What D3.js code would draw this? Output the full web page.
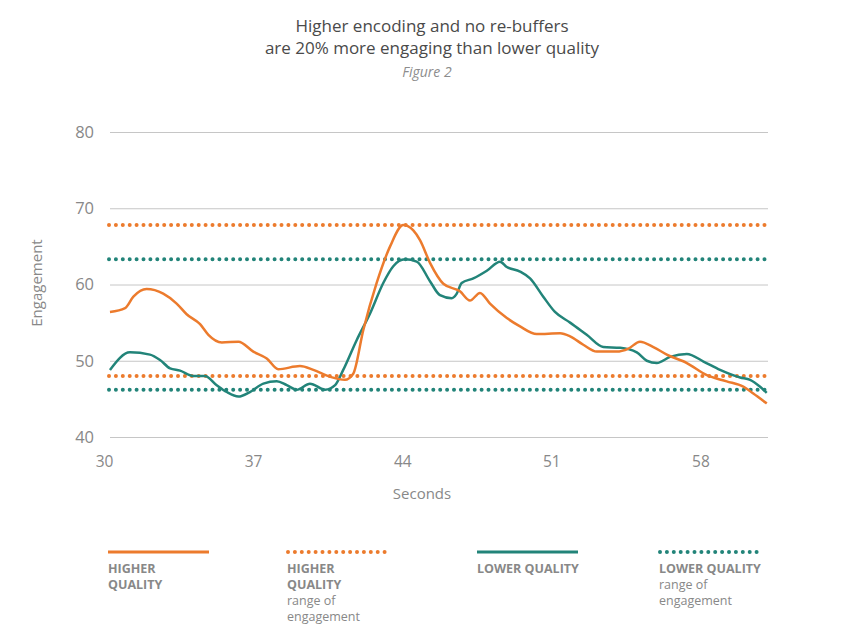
<!DOCTYPE html>
<html>
<head>
<meta charset="utf-8">
<script src="https://cdn.jsdelivr.net/npm/d3@7"></script>
<style>
  body { margin: 0; background: #fff; }
  svg text { font-family: "Open Sans", "Noto Sans", sans-serif; }
</style>
</head>
<body>
<svg id="chart" width="850" height="626"></svg>
<script>
// seconds (x)
const higherSec = [30.28, 30.99, 31.38, 32.00, 32.78, 33.41, 33.88, 34.51, 34.90, 35.53, 36.31, 37.01, 37.64, 38.18, 39.20, 39.83, 40.61, 41.31, 41.70, 42.17, 42.80, 43.43, 44.05, 44.52, 44.84, 45.31, 45.93, 46.71, 47.18, 47.65, 48.12, 48.91, 49.53, 50.31, 51.41, 51.88, 52.50, 53.13, 54.07, 54.62, 55.16, 55.79, 56.42, 57.36, 58.30, 59.23, 60.01, 60.48, 61.11];
const higherVal = [56.4, 56.9, 58.4, 59.4, 58.8, 57.5, 56.1, 54.8, 53.4, 52.4, 52.5, 51.2, 50.3, 48.9, 49.3, 48.8, 47.9, 47.5, 48.3, 54.0, 60.2, 65.0, 67.8, 67.1, 65.8, 62.8, 60.1, 59.1, 57.9, 58.9, 57.5, 55.6, 54.5, 53.5, 53.6, 53.2, 52.1, 51.2, 51.2, 51.6, 52.5, 51.8, 50.8, 49.7, 48.1, 47.3, 46.6, 45.7, 44.4];

const lowerSec = [30.28, 31.22, 32.16, 32.63, 33.10, 33.57, 34.19, 34.74, 35.29, 35.76, 36.31, 36.85, 37.48, 38.11, 38.58, 39.05, 39.67, 40.38, 40.85, 41.23, 41.86, 42.49, 43.11, 43.58, 44.13, 44.68, 45.31, 45.77, 46.32, 46.56, 46.79, 47.34, 47.97, 48.59, 48.91, 49.53, 50.00, 50.62, 51.17, 51.88, 52.66, 53.44, 54.23, 55.01, 55.48, 55.95, 56.57, 57.36, 58.14, 58.92, 59.86, 60.33, 60.80, 61.11];
const lowerVal = [48.8, 51.1, 50.8, 50.1, 49.0, 48.7, 48.0, 48.0, 46.8, 45.9, 45.3, 45.9, 47.0, 47.3, 46.8, 46.2, 47.0, 46.2, 46.8, 48.8, 52.7, 56.2, 60.2, 62.4, 63.3, 63.0, 60.4, 58.6, 58.2, 58.8, 60.2, 60.8, 61.8, 63.0, 62.3, 61.7, 60.8, 58.4, 56.4, 55.0, 53.4, 51.8, 51.7, 51.1, 50.0, 49.7, 50.5, 50.9, 49.9, 48.8, 47.8, 47.5, 46.6, 45.8];

// range of engagement [min, max]
const higherRange = [48.0, 67.8];
const lowerRange = [46.2, 63.3];

const xTicks = [30, 37, 44, 51, 58];
const yTicks = [40, 50, 60, 70, 80];

const orange = '#ec7b2d';
const teal = '#228479';
const grey = '#888888';

const svg = d3.select('#chart');

const plotLeft = 110, plotRight = 768;
const x = d3.scaleLinear().domain([30, 61.17]).range([104, 768]);
const y = d3.scaleLinear().domain([40, 80]).range([437, 132]);

// titles
svg.append('text')
    .attr('x', 432).attr('y', 32)
    .attr('text-anchor', 'middle')
    .attr('fill', '#4a4a4a')
    .attr('font-size', 17)
    .text('Higher encoding and no re-buffers');
svg.append('text')
    .attr('x', 432).attr('y', 54)
    .attr('text-anchor', 'middle')
    .attr('fill', '#4a4a4a')
    .attr('font-size', 17)
    .text('are 20% more engaging than lower quality');
svg.append('text')
    .attr('x', 427).attr('y', 77)
    .attr('text-anchor', 'middle')
    .attr('fill', '#8c8c8c')
    .attr('font-size', 14)
    .attr('font-style', 'italic')
    .text('Figure 2');

// grid + y axis
const yAxis = svg.append('g')
    .attr('transform', `translate(${plotLeft},0)`)
    .call(d3.axisLeft(y)
        .tickValues(yTicks)
        .tickSize(-(plotRight - plotLeft))
        .tickPadding(16));
yAxis.select('.domain').remove();
yAxis.selectAll('line').attr('stroke', '#c6c6c6');
yAxis.selectAll('text')
    .attr('fill', grey)
    .attr('font-size', 16.5)
    .style('font-family', '"Open Sans", sans-serif');

// x axis
const xAxis = svg.append('g')
    .attr('transform', `translate(0,${y(40)})`)
    .call(d3.axisBottom(x)
        .tickValues(xTicks)
        .tickSize(0)
        .tickPadding(19));
xAxis.select('.domain').remove();
xAxis.selectAll('text')
    .attr('fill', grey)
    .attr('font-size', 15.5)
    .style('font-family', '"Open Sans", sans-serif');

// axis titles
svg.append('text')
    .attr('transform', 'translate(42,283) rotate(-90)')
    .attr('text-anchor', 'middle')
    .attr('fill', grey)
    .attr('font-size', 15)
    .text('Engagement');
svg.append('text')
    .attr('x', 422).attr('y', 499)
    .attr('text-anchor', 'middle')
    .attr('fill', grey)
    .attr('font-size', 15)
    .text('Seconds');

// dotted range lines
const ranges = [
    { v: higherRange[1], c: orange },
    { v: lowerRange[1], c: teal },
    { v: higherRange[0], c: orange },
    { v: lowerRange[0], c: teal }
];
svg.selectAll('.range')
    .data(ranges)
    .enter()
    .append('line')
    .attr('class', 'range')
    .attr('x1', plotLeft - 1)
    .attr('x2', plotRight + 2)
    .attr('y1', d => y(d.v))
    .attr('y2', d => y(d.v))
    .attr('stroke', d => d.c)
    .attr('stroke-width', 4)
    .attr('stroke-linecap', 'round')
    .attr('stroke-dasharray', '0 6.9');

// series lines
const line = d3.line()
    .x(d => x(d[0]))
    .y(d => y(d[1]))
    .curve(d3.curveMonotoneX);

const higher = higherSec.map((s, i) => [s, higherVal[i]]);
const lower = lowerSec.map((s, i) => [s, lowerVal[i]]);

svg.append('path')
    .datum(lower)
    .attr('fill', 'none')
    .attr('stroke', teal)
    .attr('stroke-width', 2.5)
    .attr('d', line);

svg.append('path')
    .datum(higher)
    .attr('fill', 'none')
    .attr('stroke', orange)
    .attr('stroke-width', 2.5)
    .attr('d', line);

// legend
const legend = [
    { x: 108, c: orange, dotted: false, bold: ['HIGHER', 'QUALITY'], sub: [] },
    { x: 287, c: orange, dotted: true, bold: ['HIGHER', 'QUALITY'], sub: ['range of', 'engagement'] },
    { x: 477, c: teal, dotted: false, bold: ['LOWER QUALITY'], sub: [] },
    { x: 659, c: teal, dotted: true, bold: ['LOWER QUALITY'], sub: ['range of', 'engagement'] }
];

const items = svg.selectAll('.legend')
    .data(legend)
    .enter()
    .append('g')
    .attr('class', 'legend')
    .attr('transform', d => `translate(${d.x},0)`);

items.append('line')
    .attr('x1', d => d.dotted ? 1 : 0)
    .attr('x2', d => d.dotted ? 104 : 101)
    .attr('y1', 552).attr('y2', 552)
    .attr('stroke', d => d.c)
    .attr('stroke-width', d => d.dotted ? 4 : 3.2)
    .attr('stroke-linecap', d => d.dotted ? 'round' : 'butt')
    .attr('stroke-dasharray', d => d.dotted ? '0 6.9' : null);

items.each(function (d) {
    const g = d3.select(this);
    d.bold.forEach((t, i) => {
        g.append('text')
            .attr('x', 0).attr('y', 573 + i * 16)
            .attr('fill', grey)
            .attr('font-size', 12.5)
            .attr('font-weight', 'bold')
            .text(t);
    });
    d.sub.forEach((t, i) => {
        g.append('text')
            .attr('x', 0).attr('y', 573 + (d.bold.length + i) * 16)
            .attr('fill', grey)
            .attr('font-size', 12.5)
            .text(t);
    });
});
</script>
</body>
</html>
